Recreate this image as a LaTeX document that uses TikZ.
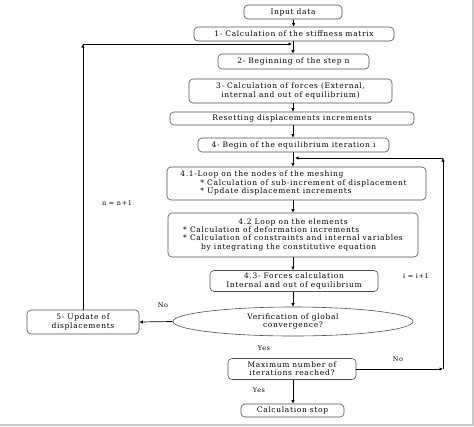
\documentclass[tikz,border=0pt]{standalone}
\usepackage{fontspec}
\setmainfont{DejaVu Serif}[LetterSpace=9]
\usetikzlibrary{arrows.meta,shapes.geometric}
\definecolor{boxline}{HTML}{505050}
\definecolor{strip}{HTML}{C8C8C8}
\begin{document}
\begin{tikzpicture}[x=1pt,y=-1pt,
  box/.style={draw=boxline,line width=0.6pt,rounded corners=4pt,inner sep=1pt,font=\fontsize{7.5}{8.3}\selectfont},
  ell/.style={ellipse,draw=boxline,line width=0.6pt,inner sep=0pt,font=\fontsize{7.5}{8.3}\selectfont,align=center},
  lab/.style={font=\fontsize{6.5}{8}\selectfont,inner sep=0pt},
  arr/.style={line width=0.7pt,-{Latex[length=3.5pt,width=3.5pt]}},
  ln/.style={line width=0.7pt}]
\useasboundingbox (0,0) rectangle (474,426);
\fill[strip] (472,0) rectangle (474,426);
\fill[strip] (0,424) rectangle (474,426);
\node[box,minimum width=98pt,minimum height=14pt] (input) at (293,12) {Input data};
\node[box,minimum width=200pt,minimum height=14pt] (stiff) at (294,34) {1- Calculation of the stiffness matrix};
\node[box,minimum width=151pt,minimum height=15pt] (step) at (293.5,61.5) {2- Beginning of the step n};
\node[box,minimum width=203pt,minimum height=24pt,align=center] (forces) at (290.5,91) {3- Calculation of forces (External,\\internal and out of equilibrium)};
\node[box,minimum width=244pt,minimum height=13pt] (reset) at (292,118.5) {Resetting displacements increments};
\node[box,minimum width=191pt,minimum height=14pt] (begin) at (293.5,145) {4- Begin of the equilibrium iteration i};
\node[box,minimum width=259pt,minimum height=33pt] (l41) at (296.5,183.5) {\begin{tabular}{@{}l@{\hspace{6pt}}}4.1-Loop on the nodes of the meshing\\\hspace{20pt}* Calculation of sub-increment of displacement\\\hspace{20pt}* Update displacement increments\end{tabular}};
\node[box,minimum width=250pt,minimum height=44pt] (l42) at (293,235) {\begin{tabular}{@{}l@{}}\multicolumn{1}{@{}c@{}}{4.2 Loop on the elements}\\{}* Calculation of deformation increments\\{}* Calculation of constraints and internal variables\\\hspace{18pt}by integrating the constitutive equation\end{tabular}};
\node[box,minimum width=168pt,minimum height=21pt,align=center] (f43) at (294,281) {4.3- Forces calculation\\Internal and out of equilibrium};
\node[ell,minimum width=240pt,minimum height=29pt] (conv) at (293,321.5) {Verification of global\\convergence?};
\node[box,minimum width=112pt,minimum height=24pt,align=center] (upd) at (83,322) {5- Update of\\displacements};
\node[box,minimum width=128pt,minimum height=21pt,align=center] (maxit) at (292,369) {Maximum number of\\iterations reached?};
\node[box,minimum width=103pt,minimum height=13pt] (stop) at (292.5,410.5) {Calculation stop};
\node[lab] (no1) at (163,305) {No};
\node[lab] (yes1) at (264,348) {Yes};
\node[lab] (no2) at (398,359) {No};
\node[lab] (yes2) at (259,390) {Yes};
\node[lab] (nn) at (117,203) {n = n+1};
\node[lab] (ii) at (416,276) {i = i+1};
\coordinate (c1) at (83,44);
\coordinate (j1) at (292,44);
\coordinate (c2) at (443,369);
\coordinate (c3) at (443,158);
\coordinate (j2) at (295,158);
\draw[arr] (input) -- (stiff);
\draw[arr] (stiff.south -| 293,0) -- (step.north -| 293,0);
\draw[arr] (upd.north) -- (c1);
\draw[arr] (c1) -- (j1);
\draw[arr] (forces.south -| 293,0) -- (reset.north -| 293,0);
\draw[arr] (reset.south -| 293,0) -- (begin.north -| 293,0);
\draw[arr] (begin.south -| 293,0) -- (l41.north -| 293,0);
\draw[arr] (l41.south -| 293,0) -- (l42.north -| 293,0);
\draw[arr] (l42.south -| 293,0) -- (f43.north -| 293,0);
\draw[arr] (f43.south -| 293,0) -- (conv.north -| 293,0);
\draw[arr] (conv.west) -- (upd.east);
\draw[arr] (maxit.east) -- (c2);
\draw[arr] (c2) -- (c3);
\draw[arr] (c3) -- (j2);
\draw[arr] (maxit.south -| 293,0) -- (stop.north -| 293,0);
\end{tikzpicture}
\end{document}
